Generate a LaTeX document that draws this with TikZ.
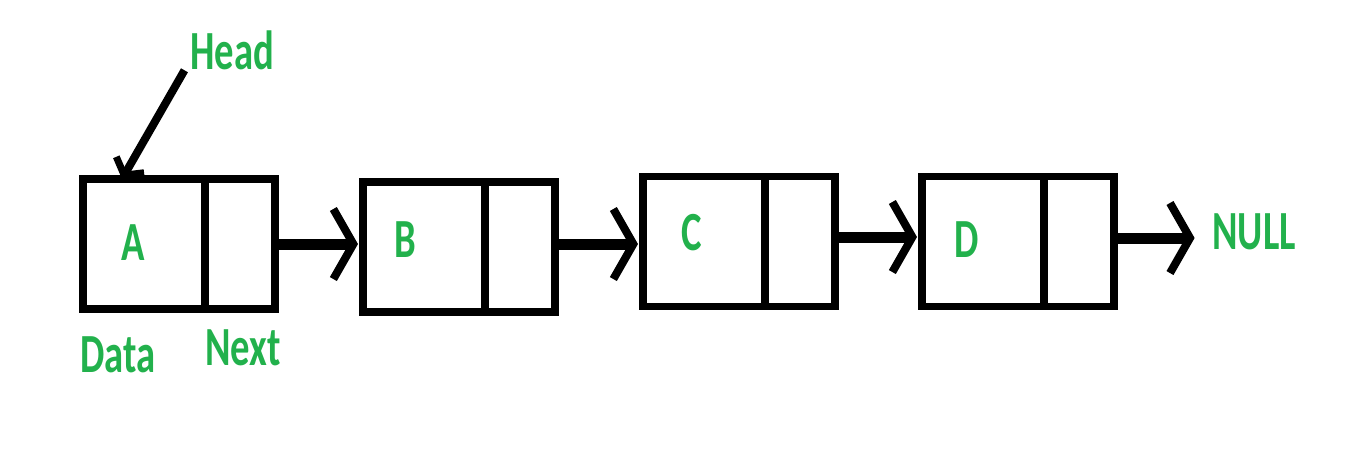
\documentclass[tikz,border=0pt]{standalone}
\usepackage{fontspec}
\newfontfamily\lblfont{Carlito}[FakeStretch=0.7]
\definecolor{paintgreen}{RGB}{34,177,76}
\usetikzlibrary{arrows.meta,positioning,calc}

\begin{document}
\begin{tikzpicture}[x=0.01cm,y=-0.01cm,
  field/.style={draw,line width=0.075cm,minimum height=1.30cm,outer sep=0pt,inner sep=0pt},
  datafield/.style={field,minimum width=1.22cm},
  nextfield/.style={field,minimum width=0.70cm},
  lbl/.style={text=paintgreen,inner sep=0pt,font=\lblfont\bfseries\fontsize{15.7}{18}\selectfont},
  link/.style={line width=0.11cm,-{Straight Barb[length=0.2cm,width=0.7cm,line width=0.08cm]},shorten >=0.05cm},
  headlink/.style={line width=0.08cm,-{Straight Barb[length=0.12cm,width=0.32cm,line width=0.07cm]}}]
  \useasboundingbox (0,0) rectangle (1358,450);
  % the four nodes of the list
  \node[datafield] (a1) at (144,244) {};
  \node[nextfield,right=0pt of a1] (a2) {};
  \node[datafield] (b1) at (424,247) {};
  \node[nextfield,right=0pt of b1] (b2) {};
  \node[datafield] (c1) at (704,241.5) {};
  \node[nextfield,right=0pt of c1] (c2) {};
  \node[datafield] (d1) at (983,241.5) {};
  \node[nextfield,right=0pt of d1] (d2) {};
  % labels
  \node[lbl] (la) at (133,243) {A};
  \node[lbl] (lb) at (405,240) {B};
  \node[lbl] (lc) at (692,233) {C};
  \node[lbl] (ld) at (967,240) {D};
  \node[lbl] (null) at (1254,232) {NULL};
  \node[lbl] (head) at (232,50) {Head};
  \node[lbl] (data) at (118,355) {Data};
  \node[lbl] (next) at (243,348) {Next};
  % links
  \draw[link] (a2.east) -- (a2.east -| b1.west);
  \draw[link] ([yshift=0.03cm]b2.east) -- ([yshift=0.03cm]b2.east -| c1.west);
  \draw[link] ([yshift=0.045cm]c2.east) -- ([yshift=0.045cm]c2.east -| d1.west);
  \draw[link,shorten >=0.17cm] ([yshift=0.035cm]d2.east) -- ([yshift=0.035cm]d2.east -| null.west);
  \coordinate (hp) at ($(a1.north west)!0.32!(a1.north east)$);
  \draw[headlink] ([xshift=-0.05cm]head.south west) -- (hp);
\end{tikzpicture}
\end{document}
